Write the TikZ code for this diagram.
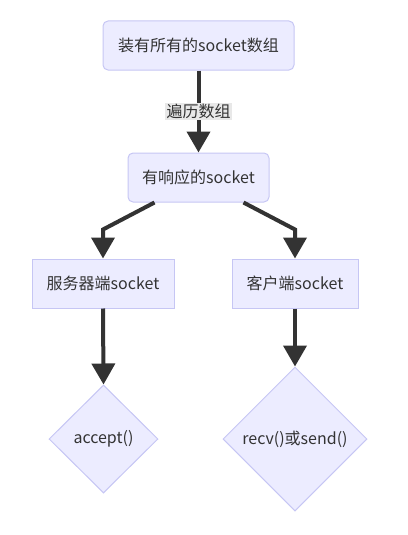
\documentclass[tikz,border=0pt]{standalone}
\usepackage{fontspec}
\setmainfont{Noto Sans CJK SC}
\usetikzlibrary{arrows.meta,shapes.geometric}
\definecolor{nfill}{HTML}{ECECFF}
\definecolor{ndraw}{HTML}{C6C6F4}
\definecolor{ecol}{HTML}{333333}
\definecolor{lbg}{HTML}{E8E8E8}
\tikzset{
  base/.style={fill=nfill,draw=ndraw,line width=1pt,font=\fontsize{16pt}{18pt}\selectfont,text=ecol,inner sep=0pt},
  rbox/.style={base,rectangle,rounded corners=5pt,minimum height=49pt},
  sbox/.style={base,rectangle,minimum height=49pt},
  dia/.style={base,diamond,inner sep=1pt},
  arr/.style={draw=ecol,line width=4pt,-{Triangle[length=21pt,width=23pt]}},
  elabel/.style={fill=lbg,inner sep=1.5pt,font=\fontsize{16pt}{18pt}\selectfont,text=ecol}
}
\begin{document}
\begin{tikzpicture}[x=1pt,y=1pt]
\useasboundingbox (0,0) rectangle (407,-535);
\node[rbox,minimum width=191pt] (n1) at (198.5,-45.5) {装有所有的socket数组};
\node[rbox,minimum width=141pt] (n2) at (198.5,-177.5) {有响应的socket};
\node[sbox,minimum width=142pt] (n3) at (103,-283.5) {服务器端socket};
\node[sbox,minimum width=126pt] (n4) at (295,-283.5) {客户端socket};
\node[dia,minimum width=109pt,minimum height=108pt] (d1) at (103.5,-439) {accept()};
\node[dia,minimum width=144pt,minimum height=144pt] (d2) at (295,-439) {recv()或send()};
\draw[arr] (n1.south) -- node[elabel] (l1) {遍历数组} (n2.north);
\draw[arr] ([xshift=27pt]n2.south west) -- ([yshift=29pt]n3.north) -- (n3.north);
\draw[arr] ([xshift=-26pt]n2.south east) -- ([yshift=29pt]n4.north) -- (n4.north);
\draw[arr] (n3.south) -- (d1.north);
\draw[arr] (n4.south) -- (d2.north);
\end{tikzpicture}
\end{document}
